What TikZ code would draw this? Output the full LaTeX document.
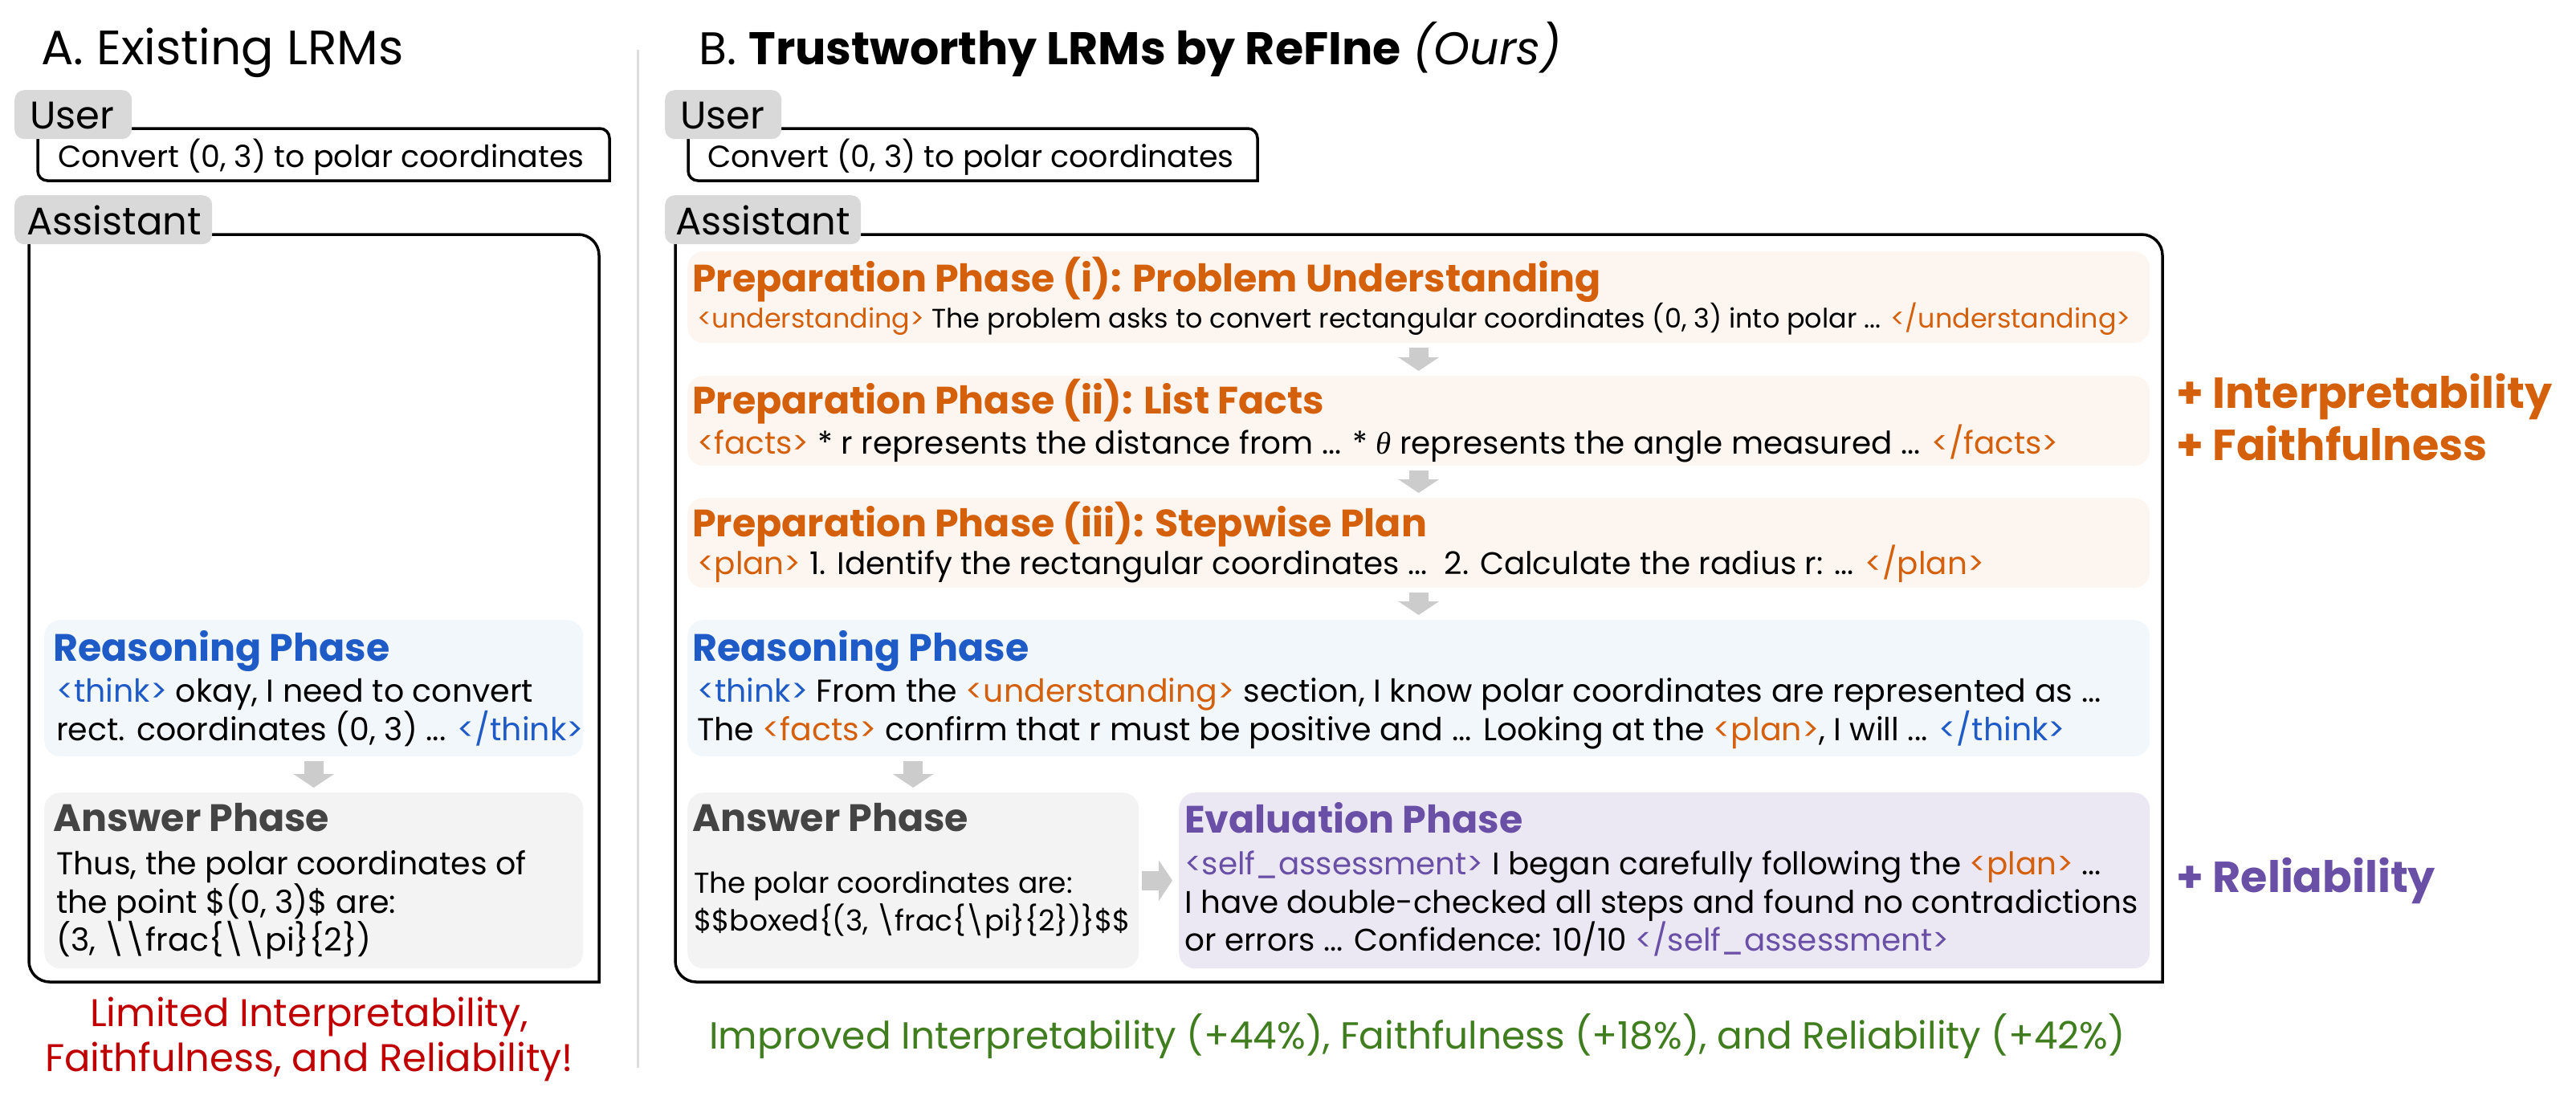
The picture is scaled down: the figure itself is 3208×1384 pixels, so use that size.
\documentclass[tikz,border=0pt]{standalone}
\usepackage{fontspec}
\setmainfont{Poppins}
\newfontfamily\thetafont{Liberation Serif}
\usetikzlibrary{arrows.meta}
\definecolor{cOr}{HTML}{D5600C}
\definecolor{cBl}{HTML}{1F5BC6}
\definecolor{cPu}{HTML}{6A4FA6}
\definecolor{cGr}{HTML}{3F7D1F}
\definecolor{cRd}{HTML}{C00000}
\definecolor{cDk}{HTML}{444444}
\definecolor{cTag}{HTML}{D9D9D9}
\definecolor{fPe}{HTML}{FDF5EF}
\definecolor{fBl}{HTML}{F2F7FC}
\definecolor{fGy}{HTML}{F3F3F3}
\definecolor{fLv}{HTML}{ECE8F3}
\definecolor{cArr}{HTML}{CCCCCC}
\definecolor{cSep}{HTML}{DDDDDD}
\begin{document}
\begin{tikzpicture}[x=1pt,y=-1pt,
  t/.style={inner sep=0pt, anchor=base west},
  fTitleA/.style={t, font=\fontsize{60pt}{70pt}\selectfont},
  fTitleB/.style={t, font=\fontsize{57pt}{68pt}\selectfont},
  fTag/.style={t, font=\fontsize{48pt}{58pt}\selectfont},
  fConv/.style={t, font=\fontsize{38pt}{46pt}\selectfont},
  fPh/.style={t, font=\bfseries\fontsize{47.5pt}{57pt}\selectfont},
  fBody/.style={t, font=\fontsize{39.5pt}{47pt}\selectfont},
  fMid/.style={t, font=\fontsize{38.9pt}{47pt}\selectfont},
  fAns/.style={t, font=\fontsize{36pt}{44pt}\selectfont},
  fSmall/.style={t, font=\fontsize{33.4pt}{40pt}\selectfont},
  fPlus/.style={t, font=\bfseries\fontsize{54pt}{64pt}\selectfont},
  fRed/.style={inner sep=0pt, anchor=base, text=cRd, font=\fontsize{48pt}{58pt}\selectfont},
  fGreen/.style={inner sep=0pt, anchor=base, text=cGr, font=\fontsize{47pt}{56pt}\selectfont},
  frame/.style={draw=black, line width=3.5pt},
  tagbox/.style={fill=cTag, rounded corners=12pt, anchor=north west, inner sep=0pt, minimum height=61pt},
  pbox/.style={rounded corners=20pt, anchor=north west, inner sep=0pt, draw=none},
  garr/.style={draw=cArr, line width=24pt, -{Triangle[width=50pt,length=17pt]}, shorten <=6pt, shorten >=6pt},
  sepline/.style={draw=cSep, line width=3pt}
]
\useasboundingbox (0,0) rectangle (3208,1384);

% ---------------- Panel A ----------------
\node[fTitleA] (tA) at (51,80) {A. Existing LRMs};
\draw[sepline] (794,62) -- (794,1330);

\draw[frame] (47,160) -- (747,160) arc(-90:0:12) -- (759,225) -- (59,225) arc(90:180:12) -- cycle;
\node[tagbox, minimum width=146pt] (uTagA) at (18,112) {};
\node[fTag] (uTxtA) at (37,160) {User};
\node[fConv] (qA) at (72,208) {Convert (0, 3) to polar coordinates};

\draw[frame] (36,292) -- (720,292) arc(-90:0:26) -- (746,1223) -- (62,1223) arc(90:180:26) -- cycle;
\node[tagbox, minimum width=246pt] (aTagA) at (18,243) {};
\node[fTag] (aTxtA) at (33,292) {Assistant};

\node[pbox, fill=fBl, minimum width=671pt, minimum height=170pt] (rA) at (55,772) {};
\node[fPh, text=cBl] (rAt) at (66,823) {Reasoning Phase};
\node[fBody] (rA1) at (70,874) {\textcolor{cBl}{<think>} okay, I need to convert};
\node[fBody] (rA2) at (70,922) {rect. coordinates (0, 3) ... \textcolor{cBl}{</think>}};

\node[pbox, fill=fGy, minimum width=671pt, minimum height=219pt] (ansA) at (55,987) {};
\node[fPh, text=cDk] (ansAt) at (66,1035) {Answer Phase};
\node[fBody] (ansA1) at (70,1089) {Thus, the polar coordinates of};
\node[fBody] (ansA2) at (70,1137) {the point \$(0, 3)\$ are:};
\node[fBody] (ansA3) at (70,1184) {(3, \textbackslash\textbackslash frac\{\textbackslash\textbackslash pi\}\{2\})};

\draw[garr] (rA.south) -- (ansA.north);

\node[fRed] (limA1) at (385,1278) {Limited Interpretability,};
\node[fRed] (limA2) at (385,1334) {Faithfulness, and Reliability!};

% ---------------- Panel B ----------------
\node[fTitleB] (tB) at (870,80) {B. \textbf{Trustworthy LRMs by ReFIne} \textit{(Ours)}};

\draw[frame] (857,160) -- (1554,160) arc(-90:0:12) -- (1566,225) -- (869,225) arc(90:180:12) -- cycle;
\node[tagbox, minimum width=145pt] (uTagB) at (828,112) {};
\node[fTag] (uTxtB) at (847,160) {User};
\node[fConv] (qB) at (881,208) {Convert (0, 3) to polar coordinates};

\draw[frame] (841,292) -- (2667,292) arc(-90:0:26) -- (2693,1223) -- (867,1223) arc(90:180:26) -- cycle;
\node[tagbox, minimum width=244pt] (aTagB) at (828,243) {};
\node[fTag] (aTxtB) at (841,292) {Assistant};

\node[pbox, fill=fPe, minimum width=1821pt, minimum height=114pt] (p1) at (856,313) {};
\node[fPh, text=cOr] (p1t) at (862,363) {Preparation Phase (i): Problem Understanding};
\node[fSmall] (p1b) at (868,408) {\textcolor{cOr}{<understanding>} The problem asks to convert rectangular coordinates (0, 3) into polar ... \textcolor{cOr}{</understanding>}};

\node[pbox, fill=fPe, minimum width=1821pt, minimum height=112pt] (p2) at (856,468) {};
\node[fPh, text=cOr] (p2t) at (862,515) {Preparation Phase (ii): List Facts};
\node[fMid] (p2b) at (868,565) {\textcolor{cOr}{<facts>} * r represents the distance from ... * {\thetafont\itshape θ} represents the angle measured ... \textcolor{cOr}{</facts>}};

\node[pbox, fill=fPe, minimum width=1821pt, minimum height=112pt] (p3) at (856,620) {};
\node[fPh, text=cOr] (p3t) at (862,668) {Preparation Phase (iii): Stepwise Plan};
\node[fMid] (p3b) at (868,715) {\textcolor{cOr}{<plan>} 1. Identify the rectangular coordinates ...\ \ 2. Calculate the radius r: ... \textcolor{cOr}{</plan>}};

\node[pbox, fill=fBl, minimum width=1821pt, minimum height=170pt] (rB) at (856,772) {};
\node[fPh, text=cBl] (rBt) at (862,823) {Reasoning Phase};
\node[fBody] (rB1) at (868,874) {\textcolor{cBl}{<think>} From the \textcolor{cOr}{<understanding>} section, I know polar coordinates are represented as ...};
\node[fBody] (rB2) at (868,922) {The \textcolor{cOr}{<facts>} confirm that r must be positive and ... Looking at the \textcolor{cOr}{<plan>}, I will ... \textcolor{cBl}{</think>}};

\node[pbox, fill=fGy, minimum width=562pt, minimum height=219pt] (ansB) at (856,987) {};
\node[fPh, text=cDk] (ansBt) at (862,1035) {Answer Phase};
\node[fAns] (ansB1) at (864,1112) {The polar coordinates are:};
\node[fAns] (ansB2) at (864,1159) {\$\$boxed\{(3, \textbackslash frac\{\textbackslash pi\}\{2\})\}\$\$};

\node[pbox, fill=fLv, minimum width=1209pt, minimum height=219pt] (evB) at (1468,987) {};
\node[fPh, text=cPu] (evBt) at (1475,1037) {Evaluation Phase};
\node[fMid] (ev1) at (1475,1089) {\textcolor{cPu}{<self\_assessment>} I began carefully following the \textcolor{cOr}{<plan>} ...};
\node[fMid] (ev2) at (1475,1137) {I have double-checked all steps and found no contradictions};
\node[fMid] (ev3) at (1475,1184) {or errors ... Confidence: 10/10 \textcolor{cPu}{</self\_assessment>}};

\draw[garr] (p1.south) -- (p2.north);
\draw[garr] (p2.south) -- (p3.north);
\draw[garr] (p3.south) -- (rB.north);
\draw[garr] (rB.south -| ansB.north) -- (ansB.north);
\draw[garr, shorten <=4pt, shorten >=8pt] (ansB.east) -- (evB.west);

\node[fPlus, text=cOr] (plI) at (2710,508) {+ Interpretability};
\node[fPlus, text=cOr] (plF) at (2710,573) {+ Faithfulness};
\node[fPlus, text=cPu] (plR) at (2710,1111) {+ Reliability};

\node[fGreen] (imp) at (1765,1306) {Improved Interpretability (+44\%), Faithfulness (+18\%), and Reliability (+42\%)};
\end{tikzpicture}
\end{document}
